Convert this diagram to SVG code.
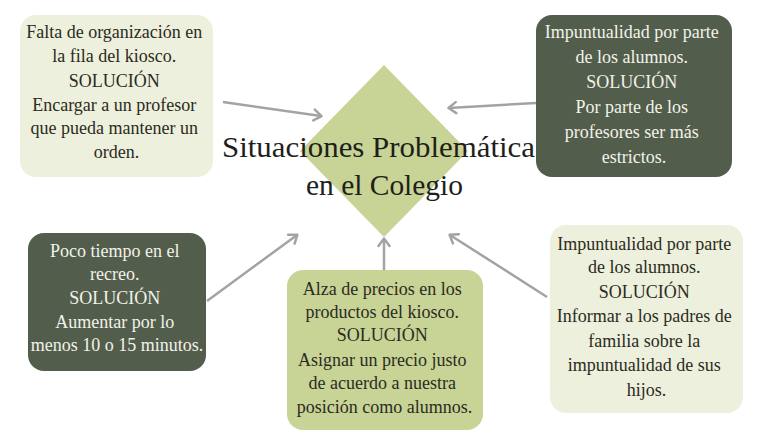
<svg xmlns="http://www.w3.org/2000/svg" width="768" height="431" viewBox="0 0 768 431">
<style>
.box-light{fill:#edf0dc}
.box-dark{fill:#525e4b}
.box-mid{fill:#c8d396}
.t{font-family:"Liberation Serif","Times New Roman",serif;font-size:18px;text-anchor:middle}
.dk{fill:#2b2b22}
.wt{fill:#f2f2ea}
.title{font-family:"Liberation Serif","Times New Roman",serif;font-size:30px;fill:#1e1e1a;text-anchor:middle}
.conn{stroke:#a3a3a3;stroke-width:2.5;fill:none;marker-end:url(#arr)}
</style>
<defs>
<marker id="arr" markerUnits="userSpaceOnUse" markerWidth="14" markerHeight="14" refX="9" refY="7" orient="auto">
<path d="M2,1.5 L9.5,7 L2,12.5" fill="none" stroke="#a3a3a3" stroke-width="2.5" stroke-linecap="round" stroke-linejoin="round"/>
</marker>
</defs>
<rect width="768" height="431" fill="#ffffff"/>

<g id="center">
<polygon points="384,65 468,151 384,237 300,151" class="box-mid"/>
<text class="title" x="378.5" y="157" textLength="313" lengthAdjust="spacingAndGlyphs">Situaciones Problemática</text>
<text class="title" x="384.5" y="195" textLength="157" lengthAdjust="spacingAndGlyphs">en el Colegio</text>
</g>

<g id="connectors">
<line class="conn" x1="223" y1="102" x2="321" y2="116"/>
<line class="conn" x1="536" y1="103" x2="449" y2="108"/>
<line class="conn" x1="207" y1="301" x2="297" y2="235"/>
<line class="conn" x1="384" y1="270" x2="384" y2="239"/>
<line class="conn" x1="547" y1="297" x2="450" y2="235"/>
</g>

<g id="node-top-left">
<rect x="20" y="15" width="193" height="162" rx="16" class="box-light"/>
<text class="t dk">
<tspan x="116.5" y="38">Falta de organización en</tspan>
<tspan x="116.5" y="62">la fila del kiosco.</tspan>
<tspan x="116.5" y="87">SOLUCIÓN</tspan>
<tspan x="116.5" y="111">Encargar a un profesor</tspan>
<tspan x="116.5" y="134">que pueda mantener un</tspan>
<tspan x="116.5" y="158">orden.</tspan>
</text>
</g>

<g id="node-top-right">
<rect x="536" y="15" width="196" height="162" rx="16" class="box-dark"/>
<text class="t wt">
<tspan x="634" y="38">Impuntualidad por parte</tspan>
<tspan x="634" y="63">de los alumnos.</tspan>
<tspan x="634" y="88">SOLUCIÓN</tspan>
<tspan x="634" y="113">Por parte de los</tspan>
<tspan x="634" y="138">profesores ser más</tspan>
<tspan x="634" y="163">estrictos.</tspan>
</text>
</g>

<g id="node-bottom-left">
<rect x="28" y="233" width="178" height="138" rx="16" class="box-dark"/>
<text class="t wt">
<tspan x="117" y="257">Poco tiempo en el</tspan>
<tspan x="117" y="280">recreo.</tspan>
<tspan x="117" y="304">SOLUCIÓN</tspan>
<tspan x="117" y="328">Aumentar por lo</tspan>
<tspan x="117" y="351">menos 10 o 15 minutos.</tspan>
</text>
</g>

<g id="node-bottom-center">
<rect x="287" y="270" width="196" height="160" rx="16" class="box-mid"/>
<text class="t dk">
<tspan x="384.5" y="295">Alza de precios en los</tspan>
<tspan x="384.5" y="318">productos del kiosco.</tspan>
<tspan x="384.5" y="341">SOLUCIÓN</tspan>
<tspan x="384.5" y="366">Asignar un precio justo</tspan>
<tspan x="384.5" y="389">de acuerdo a nuestra</tspan>
<tspan x="384.5" y="413">posición como alumnos.</tspan>
</text>
</g>

<g id="node-bottom-right">
<rect x="550" y="225" width="193" height="188" rx="16" class="box-light"/>
<text class="t dk">
<tspan x="646.5" y="250">Impuntualidad por parte</tspan>
<tspan x="646.5" y="273">de los alumnos.</tspan>
<tspan x="646.5" y="298">SOLUCIÓN</tspan>
<tspan x="646.5" y="322">Informar a los padres de</tspan>
<tspan x="646.5" y="347">familia sobre la</tspan>
<tspan x="646.5" y="371">impuntualidad de sus</tspan>
<tspan x="646.5" y="396">hijos.</tspan>
</text>
</g>
</svg>
